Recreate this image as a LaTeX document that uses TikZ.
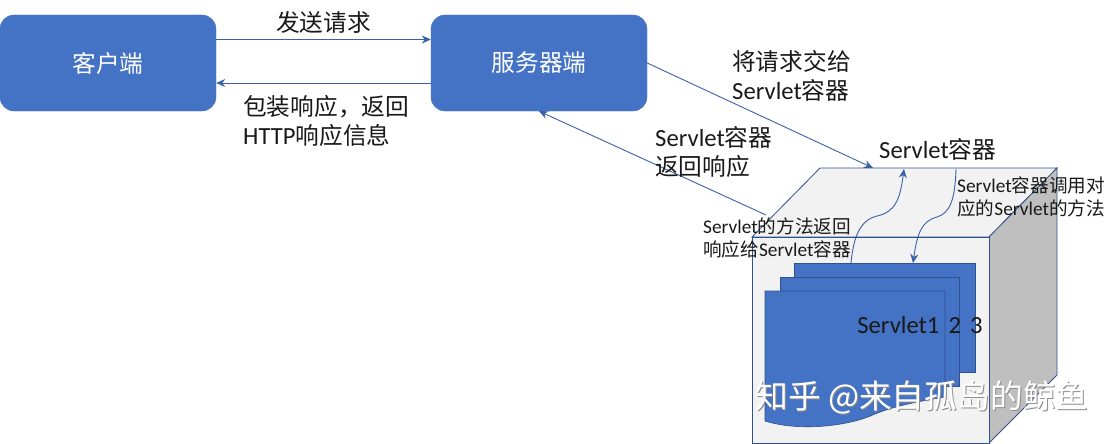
\documentclass[tikz,border=0pt]{standalone}
\usepackage{fontspec}
\setmainfont{Carlito}[Scale=1.04]
\newfontfamily\zh{Noto Sans CJK SC}
\usetikzlibrary{arrows.meta}
\definecolor{boxblue}{HTML}{4472C4}
\definecolor{edgeblue}{HTML}{2F528F}
\definecolor{facegray}{HTML}{F2F2F2}
\definecolor{sidegray}{HTML}{BFBFBF}
\tikzset{
  endbox/.style={draw=boxblue,fill=boxblue,rounded corners=14pt,minimum width=216pt,minimum height=96pt,inner sep=0pt,text=white,font=\fontsize{23.7}{29}\selectfont},
  bigtext/.style={anchor=west,align=left,inner sep=0pt,text=black!90,font=\fontsize{23.7}{29}\selectfont},
  smalltext/.style={anchor=west,align=left,inner sep=0pt,text=black!90,font=\fontsize{18.6}{23}\selectfont},
  marktext/.style={anchor=west,inner sep=0pt,font=\fontsize{32.8}{33}\selectfont},
  face/.style={draw=edgeblue,line width=0.8pt},
  page/.style={draw=edgeblue,fill=boxblue,line width=0.6pt},
  link/.style={draw=boxblue!85!black,line width=0.9pt,-{Stealth[length=9pt,width=8pt]}}
}
\begin{document}
\begin{tikzpicture}[x=1pt,y=-1pt]
  \useasboundingbox (0,0) rectangle (1117,444);

  % Draw the two end boxes
  \node[endbox] (client) at (108,63) {\zh 客户端};
  \node[endbox] (server) at (539,63) {\zh 服务器端};

  % Draw the container cube
  \fill[face,fill=facegray] (752,237) -- (820,168) -- (1057,168) -- (989,237) -- cycle;
  \fill[face,fill=sidegray] (989,237) -- (1057,168) -- (1057,375) -- (989,443) -- cycle;
  \fill[face,fill=facegray] (752,237) rectangle (989,443);

  % Draw the three servlet pages
  \node[page,minimum width=181pt,minimum height=109pt,inner sep=0pt] (pageC) at (884.5,317.5) {};
  \node[page,minimum width=179pt,minimum height=109pt,inner sep=0pt] (pageB) at (869.5,331.5) {};
  \draw[page] (765,291) -- (945,291) -- (945,397)
    .. controls (915,402) and (895,406) .. (875,414)
    .. controls (850,426) and (800,432) .. (765,421) -- cycle;
  \node[text=black!90,font=\fontsize{23.7}{29}\selectfont,inner sep=0pt] (pagetext) at (920,325) {Servlet1\hspace{0.37em}2\hspace{0.37em}3};

  % Named ends of the connectors
  \coordinate (cubein) at (873,168);
  \coordinate (cubeout) at (766,215);
  \coordinate (upstart) at (851,263);
  \coordinate (upend) at (904,169);
  \coordinate (downstart) at (956,169);
  \coordinate (downend) at (913,263);

  % Draw the connectors
  \draw[link] (client.east |- 0,39.5) -- (server.west |- 0,39.5);
  \draw[link] (server.west |- 0,83) -- (client.east |- 0,83);
  \draw[link] (server.east) -- (cubein);
  \draw[link] (cubeout) -- (server.south);
  \draw[link] (upstart) .. controls (854,230) and (864,219) .. (877,216)
    .. controls (895,212) and (900,200) .. (upend);
  \draw[link] (downstart) .. controls (955,200) and (950,213) .. (937,217)
    .. controls (921,221) and (917,235) .. (downend);

  % Add the labels
  \node[bigtext] (sendlabel) at (276,22) {\zh 发送请求};
  \node[bigtext] (backlabel) at (243,121) {\zh 包装响应，返回\\HTTP{\zh 响应信息}};
  \node[bigtext] (givelabel) at (732,75.5) {\zh 将请求交给\\Servlet{\zh 容器}};
  \node[bigtext] (returnlabel) at (655,152) {Servlet{\zh 容器}\\{\zh 返回响应}};
  \node[bigtext] (cubelabel) at (879,149) {Servlet{\zh 容器}};
  \node[smalltext] (calllabel) at (957,197) {Servlet{\zh 容器调用对}\\{\zh 应的}Servlet{\zh 的方法}};
  \node[smalltext] (methodlabel) at (703,238) {Servlet{\zh 的方法返回}\\{\zh 响应给}Servlet{\zh 容器}};

  % Add the mark in the corner
  \node[marktext,text=black!45] (markshade) at (756,398) {\zh 知乎 @来自孤岛的鲸鱼};
  \node[marktext,text=white] (mark) at (755,397) {\zh 知乎 @来自孤岛的鲸鱼};
\end{tikzpicture}
\end{document}
